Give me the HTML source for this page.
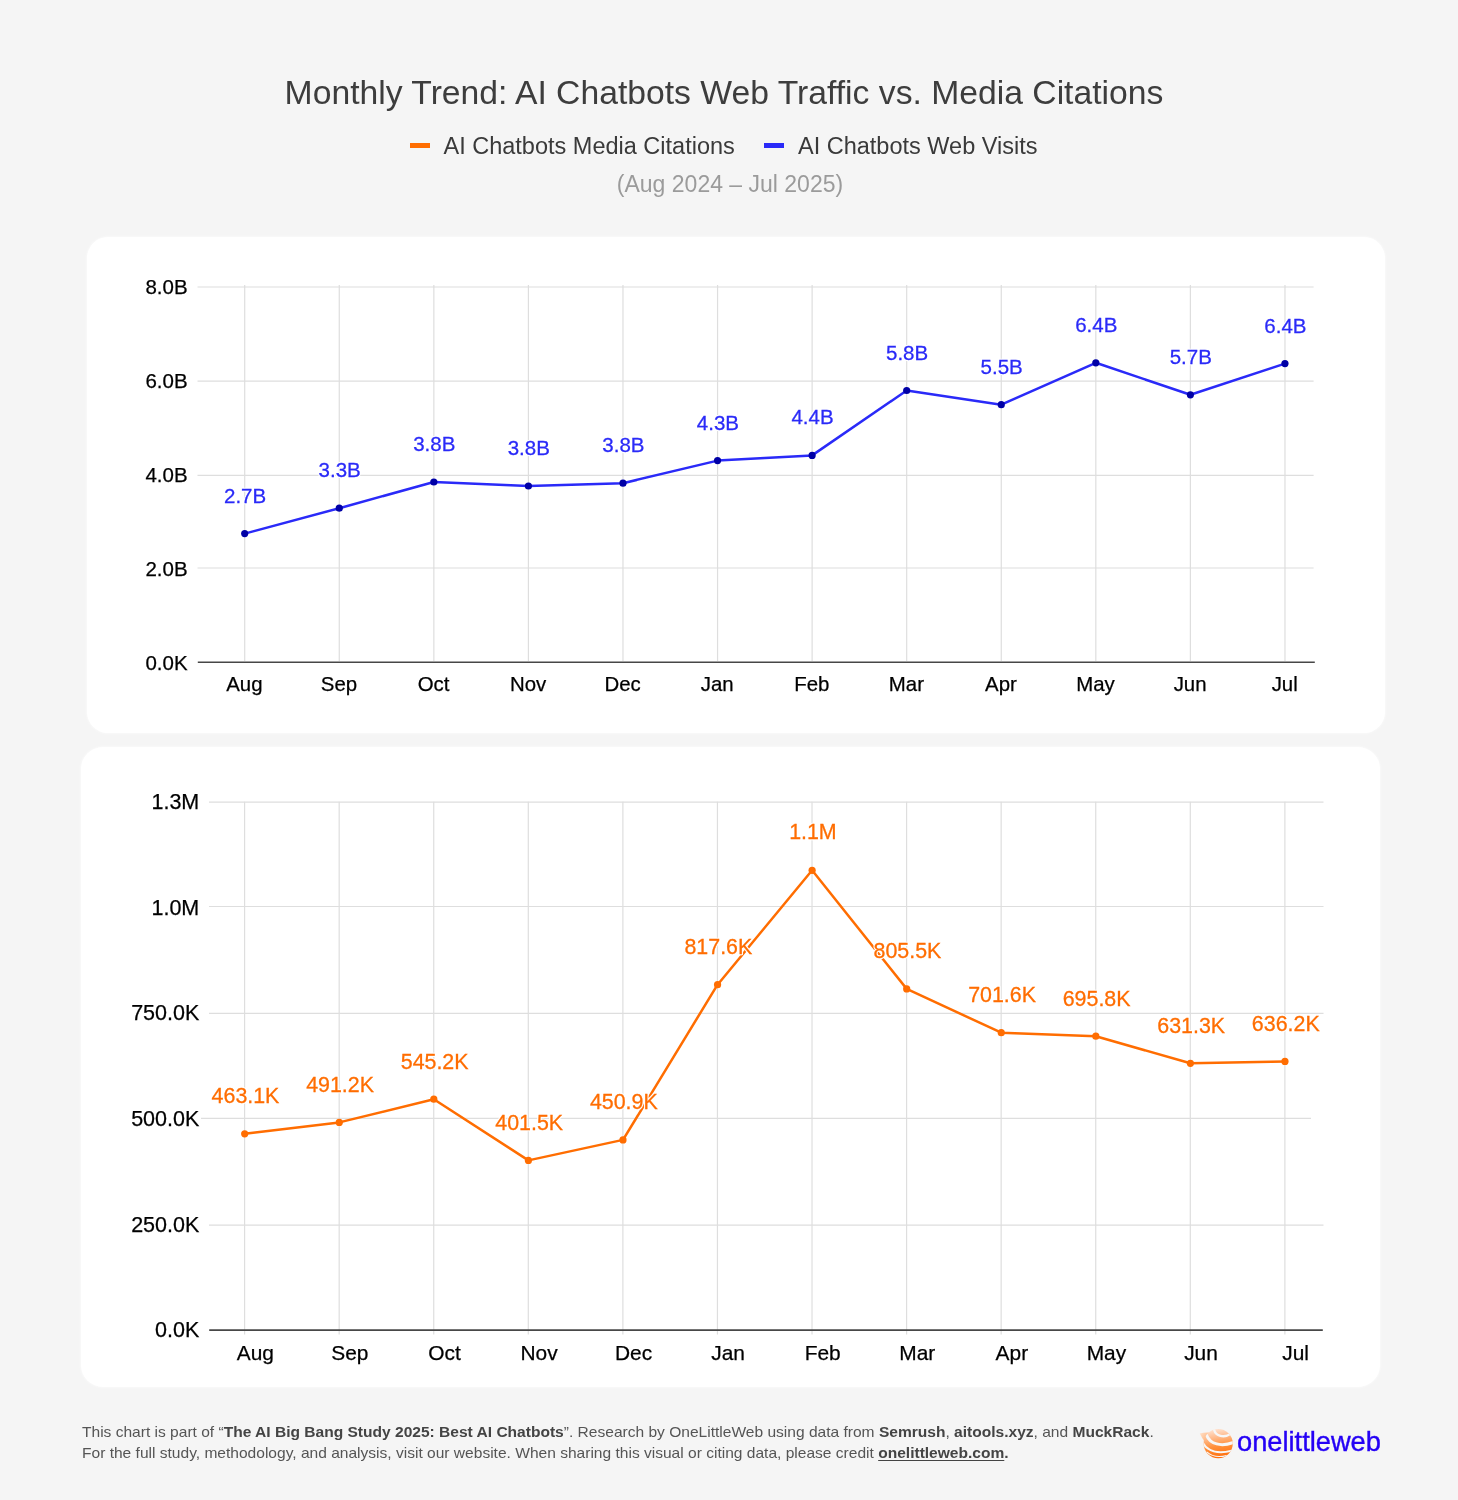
<!DOCTYPE html>
<html lang="en">
<head>
<meta charset="utf-8">
<title>Monthly Trend: AI Chatbots Web Traffic vs. Media Citations</title>
<style>
html,body{margin:0;padding:0}
body{width:1458px;height:1500px;background:#f5f5f5;position:relative;overflow:hidden;font-family:"Liberation Sans",Arial,sans-serif;color:#3c3c3c}
.card{position:absolute;background:#fff;box-shadow:0 0 3px rgba(255,255,255,.9)}
.c1{left:86.5px;top:236.7px;width:1298.5px;height:496.6px;border-radius:21px}
.c2{left:80.5px;top:747.3px;width:1299.5px;height:640px;border-radius:22px}
.charts{position:absolute;left:0;top:0}
.title,.legend,.sub,.foot,.brand,.charts{will-change:transform}
.title{position:absolute;left:-4.6px;width:1458px;top:72.9px;text-align:center;font-size:33.7px;line-height:38px;color:#3d3d3d;white-space:nowrap}
.legend{position:absolute;top:132px;left:0;width:1458px;height:28px;font-size:23.5px;line-height:28px;color:#3a3a3a;white-space:nowrap}
.legend span{position:absolute;top:0}
.legend i{position:absolute;top:11px;width:20.3px;height:5px}
.sub{position:absolute;left:1.3px;width:1458px;top:171px;text-align:center;font-size:23px;line-height:26px;color:#9b9b9b;white-space:nowrap}
.foot{position:absolute;left:81.9px;top:1420.75px;font-size:15.56px;line-height:21.4px;color:#555;white-space:nowrap}
.foot b{color:#444}
.foot u{text-decoration-thickness:1px;text-underline-offset:2px}
.globe{position:absolute;left:1198px;top:1425px}
.brand{position:absolute;left:1236.5px;top:1425.6px;font-size:27.25px;line-height:31px;color:#2400f5;-webkit-text-stroke:0.4px #2400f5;white-space:nowrap}
</style>
</head>
<body>
<div class="title">Monthly Trend: AI Chatbots Web Traffic vs. Media Citations</div>
<div class="legend"><i style="left:409.6px;background:#ff6d01"></i><span style="left:443.5px">AI Chatbots Media Citations</span><i style="left:763.5px;background:#2a2af8"></i><span style="left:798px">AI Chatbots Web Visits</span></div>
<div class="sub">(Aug 2024 – Jul 2025)</div>
<div class="card c1"></div>
<div class="card c2"></div>
<svg class="charts" width="1458" height="1500" viewBox="0 0 1458 1500">
<g stroke="#dedede" stroke-width="1.2" fill="none">
<path d="M197.5 287 H1313.6"/>
<path d="M197.5 381.2 H1313.6"/>
<path d="M197.5 475.4 H1313.6"/>
<path d="M197.5 568 H1313.6"/>
<path d="M244.7 285 V661"/>
<path d="M339.27 285 V661"/>
<path d="M433.84 285 V661"/>
<path d="M528.41 285 V661"/>
<path d="M622.98 285 V661"/>
<path d="M717.55 285 V661"/>
<path d="M812.12 285 V661"/>
<path d="M906.69 285 V661"/>
<path d="M1001.26 285 V661"/>
<path d="M1095.83 285 V661"/>
<path d="M1190.4 285 V661"/>
<path d="M1284.97 285 V661"/>
</g>
<path d="M197.8 662.2 H1314.8" stroke="#474747" stroke-width="1.6" fill="none"/>
<g stroke="#dedede" stroke-width="1.2" fill="none">
<path d="M209 802.2 H1323.5"/>
<path d="M209 906.5 H1323.5"/>
<path d="M209 1013.3 H1323.5"/>
<path d="M201 1118.3 H1311"/>
<path d="M209 1225.1 H1323.5"/>
<path d="M244.6 801.8 V1334.5"/>
<path d="M339.17 801.8 V1334.5"/>
<path d="M433.74 801.8 V1334.5"/>
<path d="M528.31 801.8 V1334.5"/>
<path d="M622.88 801.8 V1334.5"/>
<path d="M717.45 801.8 V1334.5"/>
<path d="M812.02 801.8 V1334.5"/>
<path d="M906.59 801.8 V1334.5"/>
<path d="M1001.16 801.8 V1334.5"/>
<path d="M1095.73 801.8 V1334.5"/>
<path d="M1190.3 801.8 V1334.5"/>
<path d="M1284.87 801.8 V1334.5"/>
</g>
<path d="M209.2 1330.1 H1322.8" stroke="#474747" stroke-width="1.6" fill="none"/>
<g font-family="'Liberation Sans', Arial, sans-serif" fill="#000" stroke="#000" stroke-width="0.25">
<g font-size="20.5" text-anchor="end">
<text x="187.6" y="293.8">8.0B</text>
<text x="187.6" y="388.05">6.0B</text>
<text x="187.6" y="481.9">4.0B</text>
<text x="187.6" y="575.7">2.0B</text>
<text x="187.6" y="669.6">0.0K</text>
</g>
<g font-size="20.4" text-anchor="middle">
<text x="244.4" y="690.6">Aug</text>
<text x="338.97" y="690.6">Sep</text>
<text x="433.54" y="690.6">Oct</text>
<text x="528.11" y="690.6">Nov</text>
<text x="622.68" y="690.6">Dec</text>
<text x="717.25" y="690.6">Jan</text>
<text x="811.82" y="690.6">Feb</text>
<text x="906.39" y="690.6">Mar</text>
<text x="1000.96" y="690.6">Apr</text>
<text x="1095.53" y="690.6">May</text>
<text x="1190.1" y="690.6">Jun</text>
<text x="1284.67" y="690.6">Jul</text>
</g>
<g font-size="21.5" text-anchor="end">
<text x="199.3" y="809.05">1.3M</text>
<text x="199.3" y="914.85">1.0M</text>
<text x="199.3" y="1020.05">750.0K</text>
<text x="199.3" y="1126.3">500.0K</text>
<text x="199.3" y="1231.65">250.0K</text>
<text x="199.3" y="1337.35">0.0K</text>
</g>
<g font-size="20.9" text-anchor="middle">
<text x="255.3" y="1359.6">Aug</text>
<text x="349.87" y="1359.6">Sep</text>
<text x="444.44" y="1359.6">Oct</text>
<text x="539.01" y="1359.6">Nov</text>
<text x="633.58" y="1359.6">Dec</text>
<text x="728.15" y="1359.6">Jan</text>
<text x="822.72" y="1359.6">Feb</text>
<text x="917.29" y="1359.6">Mar</text>
<text x="1011.86" y="1359.6">Apr</text>
<text x="1106.43" y="1359.6">May</text>
<text x="1201" y="1359.6">Jun</text>
<text x="1295.57" y="1359.6">Jul</text>
</g>
</g>
<polyline points="244.7,533.6 339.27,508.2 433.84,482 528.41,486 622.98,483.2 717.55,460.6 812.12,455.4 906.69,390.5 1001.26,404.7 1095.83,362.8 1190.4,394.8 1284.97,363.6" fill="none" stroke="#2a2af8" stroke-width="2.5" stroke-linejoin="round"/>
<g fill="#0000a6">
<circle cx="244.7" cy="533.6" r="3.6"/>
<circle cx="339.27" cy="508.2" r="3.6"/>
<circle cx="433.84" cy="482" r="3.6"/>
<circle cx="528.41" cy="486" r="3.6"/>
<circle cx="622.98" cy="483.2" r="3.6"/>
<circle cx="717.55" cy="460.6" r="3.6"/>
<circle cx="812.12" cy="455.4" r="3.6"/>
<circle cx="906.69" cy="390.5" r="3.6"/>
<circle cx="1001.26" cy="404.7" r="3.6"/>
<circle cx="1095.83" cy="362.8" r="3.6"/>
<circle cx="1190.4" cy="394.8" r="3.6"/>
<circle cx="1284.97" cy="363.6" r="3.6"/>
</g>
<defs><g id="l1" font-family="'Liberation Sans', Arial, sans-serif" font-size="20.5" text-anchor="middle">
<text x="245.1" y="502.6">2.7B</text>
<text x="339.67" y="477.2">3.3B</text>
<text x="434.24" y="451">3.8B</text>
<text x="528.81" y="455">3.8B</text>
<text x="623.38" y="452.2">3.8B</text>
<text x="717.95" y="429.6">4.3B</text>
<text x="812.52" y="424.4">4.4B</text>
<text x="907.09" y="359.5">5.8B</text>
<text x="1001.66" y="373.7">5.5B</text>
<text x="1096.23" y="331.8">6.4B</text>
<text x="1190.8" y="363.8">5.7B</text>
<text x="1285.37" y="332.6">6.4B</text>
</g></defs>
<use href="#l1" fill="none" stroke="#fff" stroke-width="2.6" stroke-linejoin="round"/>
<use href="#l1" fill="#2a2af8" stroke="#2a2af8" stroke-width="0.28"/>
<polyline points="244.7,1133.8 339.27,1122.4 433.84,1099.2 528.41,1160.4 622.98,1139.9 717.55,984.7 812.12,870.3 906.69,988.9 1001.26,1032.7 1095.83,1036.2 1190.4,1063.3 1284.97,1061.4" fill="none" stroke="#ff6d01" stroke-width="2.5" stroke-linejoin="round"/>
<g fill="#ff6d01">
<circle cx="244.7" cy="1133.8" r="3.6"/>
<circle cx="339.27" cy="1122.4" r="3.6"/>
<circle cx="433.84" cy="1099.2" r="3.6"/>
<circle cx="528.41" cy="1160.4" r="3.6"/>
<circle cx="622.98" cy="1139.9" r="3.6"/>
<circle cx="717.55" cy="984.7" r="3.6"/>
<circle cx="812.12" cy="870.3" r="3.6"/>
<circle cx="906.69" cy="988.9" r="3.6"/>
<circle cx="1001.26" cy="1032.7" r="3.6"/>
<circle cx="1095.83" cy="1036.2" r="3.6"/>
<circle cx="1190.4" cy="1063.3" r="3.6"/>
<circle cx="1284.97" cy="1061.4" r="3.6"/>
</g>
<defs><g id="l2" font-family="'Liberation Sans', Arial, sans-serif" font-size="21.4" text-anchor="middle">
<text x="245.5" y="1103.3">463.1K</text>
<text x="340.07" y="1091.9">491.2K</text>
<text x="434.64" y="1068.7">545.2K</text>
<text x="529.21" y="1129.9">401.5K</text>
<text x="623.78" y="1109.4">450.9K</text>
<text x="718.35" y="954.2">817.6K</text>
<text x="812.92" y="838.6">1.1M</text>
<text x="907.49" y="958.4">805.5K</text>
<text x="1002.06" y="1002.2">701.6K</text>
<text x="1096.63" y="1005.7">695.8K</text>
<text x="1191.2" y="1032.8">631.3K</text>
<text x="1285.77" y="1030.9">636.2K</text>
</g></defs>
<use href="#l2" fill="none" stroke="#fff" stroke-width="2.6" stroke-linejoin="round"/>
<use href="#l2" fill="#ff6d01" stroke="#ff6d01" stroke-width="0.28"/>
</svg>
<div class="foot">This chart is part of “<b>The AI Big Bang Study 2025: Best AI Chatbots</b>”. Research by OneLittleWeb using data from <b>Semrush</b>, <b>aitools.xyz</b>, and <b>MuckRack</b>.<br>For the full study, methodology, and analysis, visit our website. When sharing this visual or citing data, please credit <b><u>onelittleweb.com</u>.</b></div>
<svg class="globe" width="40" height="36" viewBox="0 0 40 36">
<defs>
<linearGradient id="og" x1="0.35" y1="0" x2="0.55" y2="1">
<stop offset="0.05" stop-color="#fff0e6"/><stop offset="0.32" stop-color="#ffc096"/><stop offset="0.6" stop-color="#ff8f3a"/><stop offset="1" stop-color="#ff6600"/>
</linearGradient>
<linearGradient id="tg" x1="0" y1="0" x2="1" y2="1">
<stop offset="0" stop-color="#ffe2cd"/><stop offset="1" stop-color="#ffa866"/>
</linearGradient>
<clipPath id="gc"><circle cx="20.2" cy="18.6" r="14.6"/></clipPath>
</defs>
<path d="M1.8 8.4 C5 7.6 8.5 7.3 11 7.6 L7.2 17.5 C5.2 14.5 3.2 11.5 1.8 8.4Z" fill="url(#tg)"/>
<g clip-path="url(#gc)">
<rect x="0" y="0" width="40" height="36" fill="url(#og)"/>
<g fill="none" stroke="#f7f7f7" stroke-linecap="round">
<path d="M16.2 5 C17.5 10.8 26 13.6 33 8.6" stroke-width="2.3"/>
<path d="M8.6 10.2 C12 19 23 22.3 36 17.2" stroke-width="3"/>
<path d="M4.5 17.6 C9.5 26.4 20 29.3 33.5 25.8" stroke-width="2.2"/>
<path d="M9 27.2 C13.5 31.2 20.5 32.5 28.5 30.6" stroke-width="1.1"/>
</g>
</g>
</svg>
<div class="brand">onelittleweb</div>
</body>
</html>
